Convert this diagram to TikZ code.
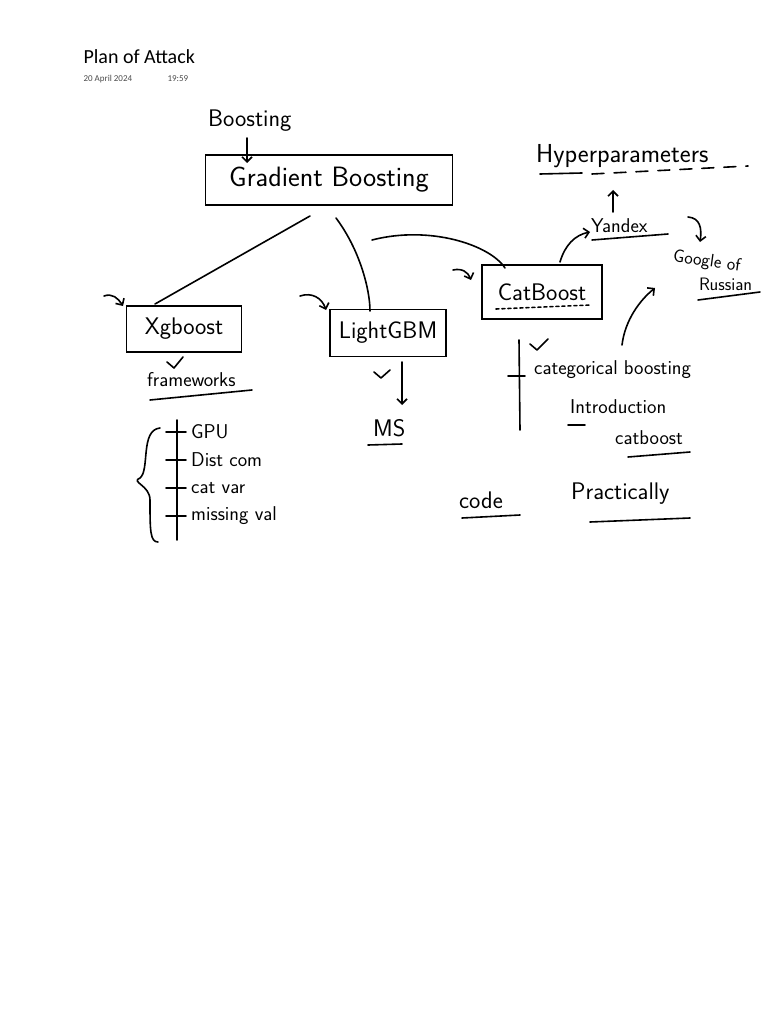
\documentclass[tikz,border=0pt]{standalone}
\usepackage{fontspec}
\setmainfont{Carlito}
\usetikzlibrary{arrows.meta,decorations.pathreplacing}
\begin{document}
\begin{tikzpicture}[x=1pt,y=-1pt,
 ink/.style={line width=1.6pt,line cap=round,line join=round},
 hw/.style={font=\fontsize{24}{26}\selectfont\sffamily,inner sep=1pt,anchor=west},
 hws/.style={font=\fontsize{20}{22}\selectfont\sffamily,inner sep=1pt,anchor=west},
 boxn/.style={draw,line width=1.6pt,font=\fontsize{24}{26}\selectfont\sffamily,inner sep=0pt},
 ar/.style={ink,-{Straight Barb[length=5pt]}}]
\useasboundingbox[fill=white] (0,0) rectangle (768,1024);
\node[anchor=west,font=\fontsize{20}{22}\selectfont] (title) at (80,57) {Plan of Attack};
\node[anchor=west,font=\fontsize{9}{10}\selectfont,text=black!70] (date) at (80,79) {20 April 2024};
\node[anchor=west,font=\fontsize{9}{10}\selectfont,text=black!70] (time) at (164,79) {19:59};

\node[hw] (boost) at (207,121) {Boosting};
\node[boxn,minimum width=247,minimum height=50,font=\fontsize{28}{30}\selectfont\sffamily] (gb) at (329,180) {Gradient Boosting};
\draw[ar] (247,138) -- (247,163);

\node[boxn,minimum width=115,minimum height=46] (xg) at (184,329) {Xgboost};
\node[boxn,minimum width=116,minimum height=47] (lg) at (388,333) {LightGBM};
\node[boxn,minimum width=120,minimum height=54] (cb) at (542,292) {CatBoost};
\draw[ink,dashed] (496,309) -- (590,305);

\draw[ink] (310,216) -- (155,304);
\draw[ink] (336,218) .. controls (360,250) and (370,290) .. (370,311);
\draw[ink] (372,240) .. controls (430,225) and (490,245) .. (505,268);

\draw[ar] (104,296) .. controls (112,293) and (118,298) .. (123,306);
\draw[ar] (300,296) .. controls (312,292) and (322,298) .. (326,310);
\draw[ar] (453,270) .. controls (462,268) and (468,272) .. (471,280);

% Xgboost branch
\draw[ink] (167,362) -- (174,368) -- (183,357);
\node[hws] (fw) at (146,380) {frameworks};
\draw[ink] (150,400) -- (252,390);
\draw[ink] (177,420) -- (177,540);
\foreach \y/\t in {432/GPU,460/Dist com,488/cat var,516/missing val}{
 \draw[ink] (166,\y) -- (186,\y);
 \node[hws] at (190,\y) {\t};}
\draw[ink] (160,428) .. controls (140,430) and (150,470) .. (140,478)
 .. controls (130,482) and (150,485) .. (150,500) .. controls (150,530) and (150,542) .. (158,542);

% LightGBM branch
\draw[ink] (374,372) -- (381,378) -- (390,370);
\draw[ar] (402,362) -- (402,405);
\node[hw] (ms) at (372,428) {MS};
\draw[ink] (368,445) -- (402,444);

% CatBoost branch
\draw[ink] (530,344) -- (537,350) -- (548,339);
\draw[ink] (519,340) -- (520,430);
\draw[ink] (508,376) -- (525,376);
\node[hws] (cat) at (533,370) {categorical boosting};
\node[hws] (intro) at (569,407) {Introduction};
\draw[ink] (568,425) -- (585,425);
\node[hws] (catb) at (614,438) {catboost};
\draw[ink] (628,457) -- (690,452);
\node[hw] (code) at (458,500) {code};
\draw[ink] (462,518) -- (520,515);
\node[hw] (prac) at (570,494) {Practically};
\draw[ink] (590,522) -- (690,518);

\node[hws] (yan) at (590,226) {Yandex};
\draw[ink] (592,240) -- (668,234);
\draw[ar] (560,262) .. controls (565,245) and (575,235) .. (590,232);
\draw[ar] (613,212) -- (613,190);
\node[hw,font=\fontsize{26}{28}\selectfont\sffamily] (hyp) at (535,156) {Hyperparameters};
\draw[ink] (540,174) -- (582,173);
\draw[ink,dash pattern=on 12pt off 10pt] (592,174) -- (748,166);
\draw[ar] (688,217) .. controls (700,218) and (702,228) .. (700,242);
\node[hws,rotate=-8,font=\fontsize{18}{20}\selectfont\sffamily] (goog) at (672,257) {Google of};
\node[hws,font=\fontsize{18}{20}\selectfont\sffamily] (rus) at (698,284) {Russian};
\draw[ink] (698,300) -- (760,292);
\draw[ar] (622,345) .. controls (625,320) and (640,300) .. (655,288);
\end{tikzpicture}
\end{document}
